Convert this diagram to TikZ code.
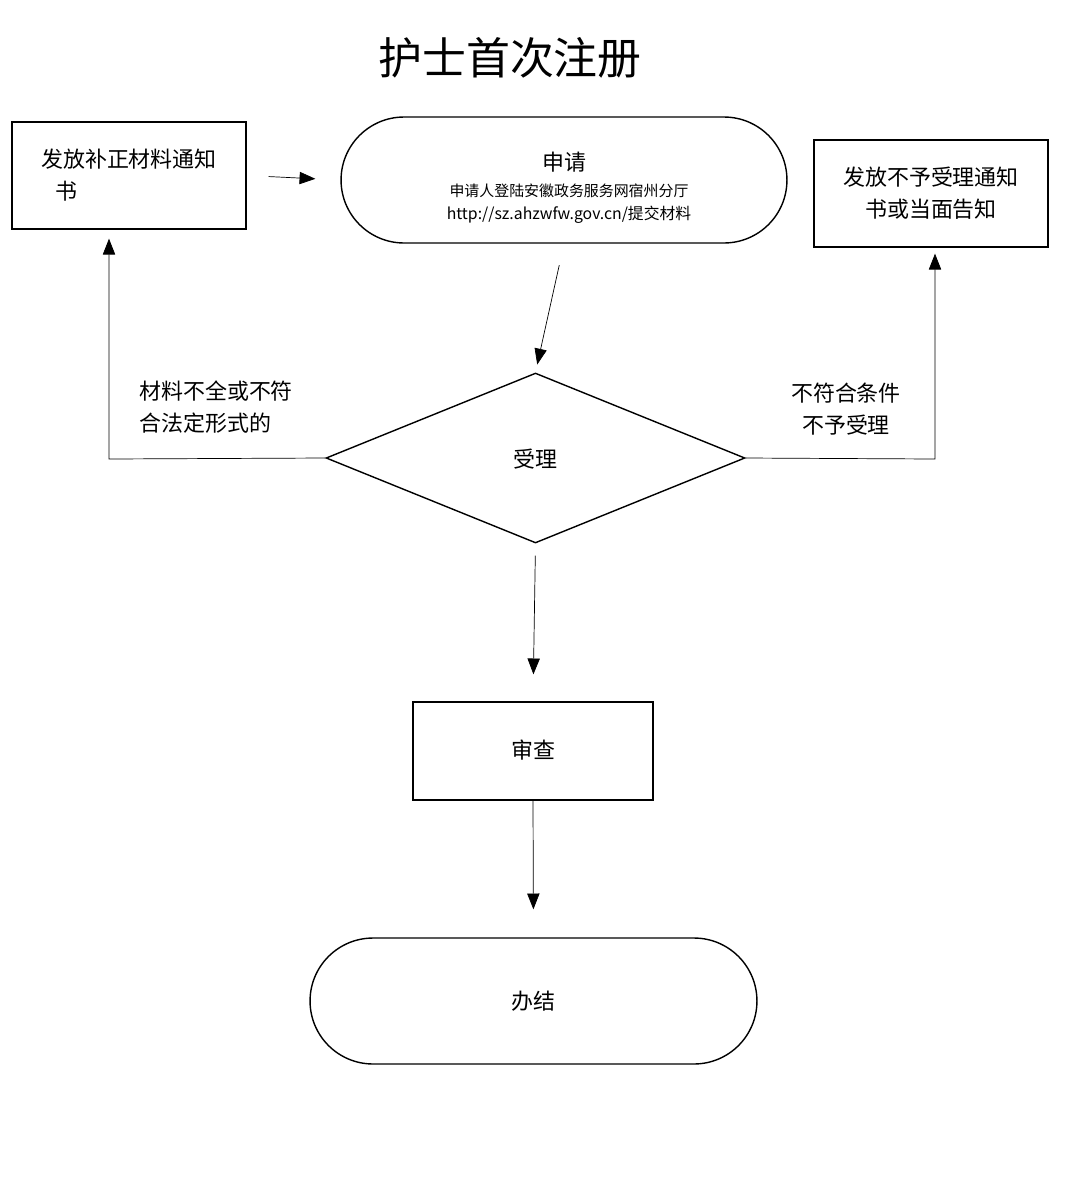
\documentclass[tikz,border=0pt]{standalone}
\usepackage{fontspec}
\setmainfont{Noto Sans CJK SC}
\usetikzlibrary{arrows.meta,shapes.geometric}
\tikzset{
  box/.style={draw,thick,inner sep=0pt},
  stad/.style={draw,thick,rounded corners=1.26cm,inner sep=0pt,minimum width=8.92cm,minimum height=2.52cm},
  arr/.style={-{Triangle[width=7pt,length=9pt]}},
  txt/.style={font=\fontsize{12.5}{18}\selectfont}
}
\begin{document}
\begin{tikzpicture}[x=0.02cm,y=-0.02cm]
\useasboundingbox (0,0) rectangle (1074,1181);
\node[font=\fontsize{25}{30}\selectfont] (title) at (510,58) {护士首次注册};
% top row
\node[box,minimum width=4.68cm,minimum height=2.14cm] (fix) at (129,175.5) {};
\node[txt,align=left] at (129,175) {发放补正材料通知\\\ \ \ 书};
\node[stad] (apply) at (564,180) {};
\node[txt] at (564,162) {申请};
\node[font=\fontsize{8.5}{10}\selectfont,align=center] at (569,204) {申请人登陆安徽政务服务网宿州分厅\\[3pt]\fontsize{9}{10}\selectfont http://sz.ahzwfw.gov.cn/提交材料};
\node[box,minimum width=4.68cm,minimum height=2.14cm] (reject) at (931,193.5) {};
\node[txt,align=center] at (931,193) {发放不予受理通知\\书或当面告知};
% middle
\node[draw,thick,diamond,aspect=2.46,minimum width=8.38cm,minimum height=3.4cm,inner sep=0pt] (accept) at (535.5,458) {};
\node[txt] at (535,459) {受理};
\node[txt,align=left,anchor=west] at (133,407) {材料不全或不符\\合法定形式的};
\node[txt,align=center] at (846,409) {不符合条件\\不予受理};
\node[box,minimum width=4.8cm,minimum height=1.96cm] (check) at (533,751) {};
\node[txt] at (533,750) {审查};
\node[stad,minimum width=8.94cm] (done) at (533.5,1001) {};
\node[txt] at (533,1001) {办结};
% connectors
\coordinate (lc) at (109,459);
\coordinate (rc) at (935,459);
\draw[arr,shorten <=0.44cm,shorten >=0.5cm] (fix.east) -- (apply.west);
\draw[arr,shorten <=0.44cm,shorten >=0.16cm] (apply.south) -- (accept.north);
\draw[arr,shorten >=0.18cm] (accept.west) -- (lc) -- (fix.south -| lc);
\draw[arr,shorten >=0.12cm] (accept.east) -- (rc) -- (reject.south -| rc);
\draw[arr,shorten <=0.24cm,shorten >=0.54cm] (accept.south) -- (check.north);
\draw[arr,shorten >=0.56cm] (check.south) -- (done.north);
\end{tikzpicture}
\end{document}
